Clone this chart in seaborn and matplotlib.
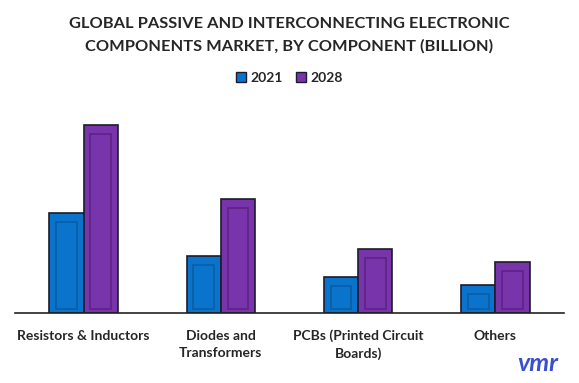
import pandas as pd
import matplotlib.pyplot as plt
import seaborn as sns
from matplotlib.patches import Rectangle

# Data (billion)
components = ["Resistors & Inductors", "Diodes and\nTransformers",
              "PCBs (Printed Circuit\nBoards)", "Others"]
values_2021 = [23.9, 13.6, 8.6, 6.7]
values_2028 = [45.0, 27.3, 15.3, 12.2]
years = ["2021", "2028"]

df = pd.DataFrame({
    "Component": components * 2,
    "Value": values_2021 + values_2028,
    "Year": [years[0]] * 4 + [years[1]] * 4,
})

sns.set_style("white")
plt.rcParams['font.family'] = ['Lato', 'DejaVu Sans']

colors = {"2021": "#0a74cc", "2028": "#7834aa"}
inner = {"2021": "#0a5ea6", "2028": "#5f2488"}

fig = plt.figure(figsize=(5.79, 3.83), dpi=100)
ax = fig.add_axes([15 / 579, 70 / 383, 549 / 579, 203 / 383])

sns.barplot(data=df, x="Component", y="Value", hue="Year", palette=colors,
            saturation=1, width=0.5, gap=0, edgecolor="#1c1c2c", linewidth=1.2,
            legend=False, ax=ax)

# inner bevel look
for container, yr in zip(ax.containers, years):
    for p in container.patches:
        x, w, h = p.get_x(), p.get_width(), p.get_height()
        ax.add_patch(Rectangle((x + w * 0.2, 0.9), w * 0.6, h - 3.0,
                               fill=False, edgecolor=inner[yr], linewidth=1.3))

ax.set_xlim(-0.5, 3.5)
ax.set_ylim(0, 48.6)
ax.set_xlabel("")
ax.set_ylabel("")
ax.set_yticks([])
ax.tick_params(axis="x", length=0, pad=12)
for lbl in ax.get_xticklabels():
    lbl.set_fontsize(10)
    lbl.set_fontweight("bold")
    lbl.set_linespacing(1.5)
sns.despine(ax=ax, left=True)
ax.spines["bottom"].set_color("#222222")
ax.spines["bottom"].set_linewidth(1.2)

fig.suptitle("GLOBAL PASSIVE AND INTERCONNECTING ELECTRONIC\nCOMPONENTS MARKET, BY COMPONENT (BILLION)",
             fontsize=11.8, fontweight="bold", y=0.955, linespacing=1.65)

handles = [Rectangle((0, 0), 1, 1, facecolor=colors[y], edgecolor="#1c1c2c") for y in years]
fig.legend(handles, years, loc="center", bbox_to_anchor=(0.5, 1 - 78 / 383),
           ncol=2, frameon=False, prop={"weight": "bold", "size": 10},
           handlelength=0.7, handleheight=0.7, handletextpad=0.3, columnspacing=1.0)

fig.text(0.965, 0.02, "vmr", color="#3a4fd0", fontsize=18, fontweight="bold",
         ha="right", va="bottom", style="italic")

fig.savefig("out.png", dpi=100)
